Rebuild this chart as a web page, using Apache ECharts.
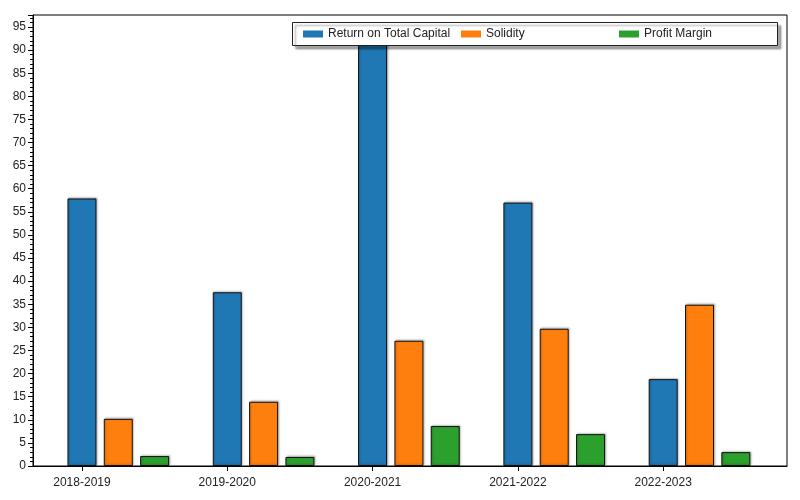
<!DOCTYPE html>
<html>
<head>
<meta charset="utf-8">
<script src="https://cdn.jsdelivr.net/npm/echarts@6/dist/echarts.min.js"></script>
<style>html,body{margin:0;padding:0;background:#fff}#c{width:800px;height:500px}</style>
</head>
<body>
<div id="c"></div>
<script>
const categories = ['2018-2019', '2019-2020', '2020-2021', '2021-2022', '2022-2023'];
const seriesNames = ['Return on Total Capital', 'Solidity', 'Profit Margin'];
const returnOnTotalCapital = [57.9, 37.6, 93.0, 57.0, 18.8];
const solidity = [10.2, 13.9, 27.1, 29.7, 34.9];
const profitMargin = [2.15, 1.95, 8.65, 6.9, 3.0];
const yTicks = [0, 5, 10, 15, 20, 25, 30, 35, 40, 45, 50, 55, 60, 65, 70, 75, 80, 85, 90, 95];

const colors = ['#1f77b4', '#ff7f0e', '#2ca02c'];
const offsets = [0, 0.25, 0.5];
const values = [returnOnTotalCapital, solidity, profitMargin];
const legendLefts = [303, 461, 619];
const font = 'Liberation Sans, Arial, sans-serif';

const chart = echarts.init(document.getElementById('c'), null, {renderer: 'canvas'});
const series = values.map((vals, k) => ({
  name: seriesNames[k],
  type: 'bar',
  barWidth: 29,
  barGap: '-100%',
  data: vals.map((v, i) => [i + offsets[k], v]),
  itemStyle: {
    color: colors[k],
    borderColor: '#111',
    borderWidth: 1,
    shadowColor: 'rgba(0,0,0,0.25)',
    shadowBlur: 2,
    shadowOffsetX: 1,
    shadowOffsetY: -1
  },
  emphasis: {disabled: true},
  animation: false
}));

const legends = seriesNames.map((name, k) => ({
  left: legendLefts[k], top: 28,
  padding: 0,
  itemWidth: 20, itemHeight: 7, itemGap: 0,
  icon: 'rect',
  z: 10,
  textStyle: {fontFamily: font, fontSize: 12, color: '#222'},
  data: [{name: name, itemStyle: {borderWidth: 0, shadowBlur: 0, shadowOffsetX: 0, shadowOffsetY: 0}}]
}));

chart.setOption({
  animation: false,
  grid: {left: 33, right: 13, top: 15, bottom: 34, show: true, borderColor: '#000', borderWidth: 1},
  graphic: [{
    type: 'rect', z: 8, left: 292, top: 22,
    shape: {width: 485, height: 23},
    style: {fill: '#fff', stroke: '#222', lineWidth: 1,
      shadowColor: 'rgba(0,0,0,0.35)', shadowBlur: 2, shadowOffsetX: 3, shadowOffsetY: 3}
  }],
  legend: legends,
  xAxis: {
    type: 'value',
    min: -0.337, max: 4.852,
    splitLine: {show: false},
    axisLine: {show: true, onZero: false, lineStyle: {color: '#000', width: 1}},
    axisTick: {show: true, length: 5, lineStyle: {color: '#000'}, customValues: categories.map((c, i) => i)},
    axisLabel: {
      customValues: categories.map((c, i) => i),
      formatter: v => categories[Math.round(v)] || '',
      fontFamily: font, fontSize: 12, color: '#222', margin: 11
    }
  },
  yAxis: {
    type: 'value',
    min: 0, max: 97.6, interval: 5,
    splitLine: {show: false},
    axisLine: {show: true, onZero: false, lineStyle: {color: '#000', width: 1}},
    axisTick: {show: true, length: 5, lineStyle: {color: '#000'}},
    minorTick: {show: true, splitNumber: 5, length: 3, lineStyle: {color: '#000'}},
    axisLabel: {
      customValues: yTicks,
      fontFamily: font, fontSize: 12, color: '#222', margin: 7
    }
  },
  series: series
});
</script>
</body>
</html>
